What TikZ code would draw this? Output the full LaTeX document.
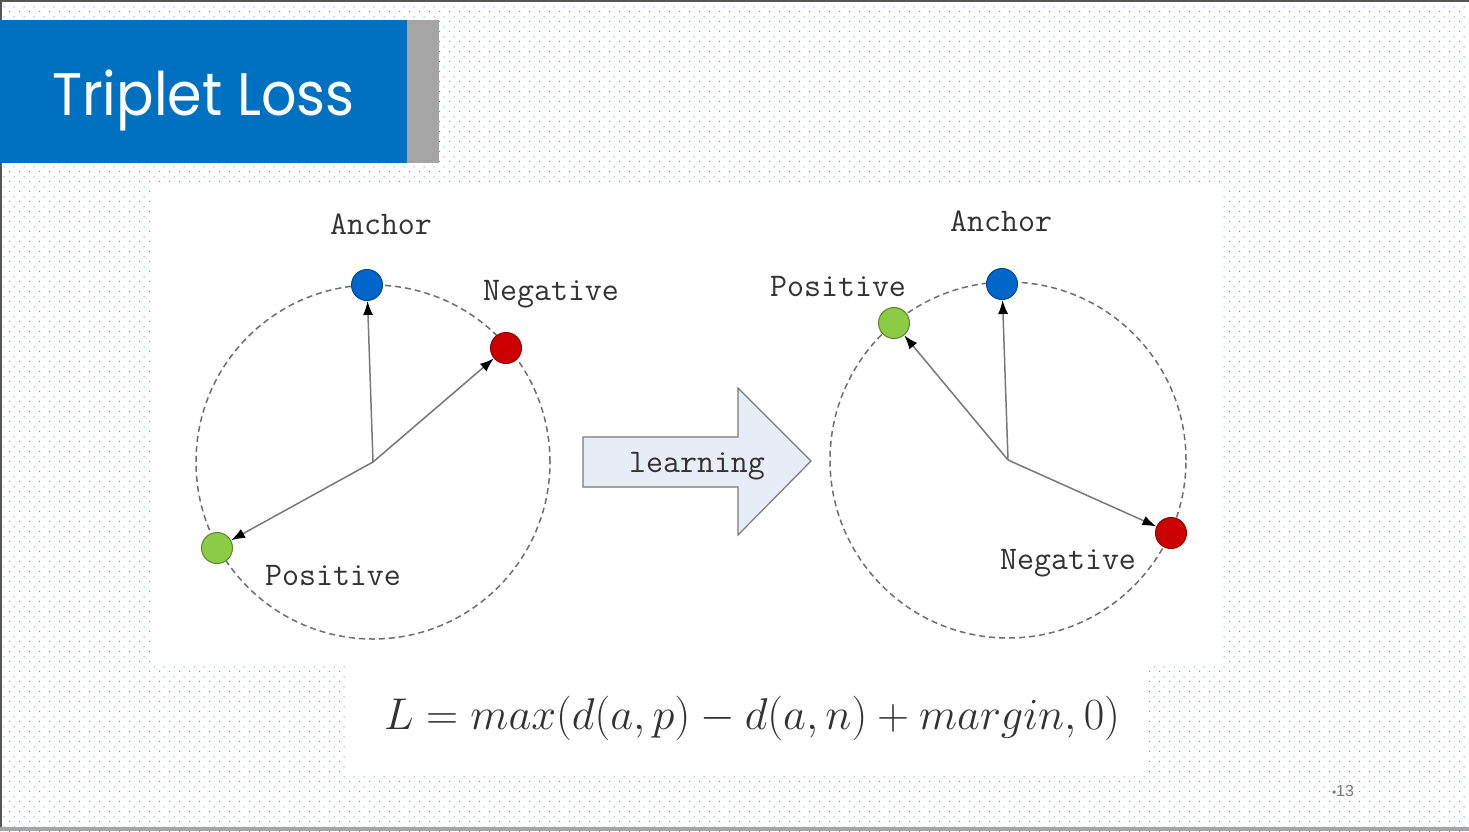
\RequirePackage{fix-cm}
\documentclass[tikz,border=0pt]{standalone}
\usepackage{fontspec}
\usepackage{tikz}
\usetikzlibrary{arrows.meta, positioning, patterns}
\newfontfamily\titlefont{Poppins}
\newfontfamily\numfont{Liberation Sans}
\definecolor{titleblue}{RGB}{0, 112, 192}
\definecolor{tabgray}{RGB}{165, 165, 165}
\definecolor{dotblue}{RGB}{90, 150, 222}
\definecolor{framegray}{RGB}{85, 85, 85}
\definecolor{ringgray}{RGB}{110, 110, 110}
\definecolor{vecgray}{RGB}{120, 120, 120}
\definecolor{inkgray}{RGB}{50, 50, 50}
\definecolor{anchorblue}{RGB}{0, 102, 204}
\definecolor{negred}{RGB}{204, 0, 0}
\definecolor{posgreen}{RGB}{140, 204, 68}
\definecolor{arrowfill}{RGB}{231, 236, 246}
\pgfdeclarepatternformonly{slidedots}{\pgfpointorigin}{\pgfpoint{10pt}{10pt}}{\pgfpoint{10pt}{10pt}}{%
  \pgfpathrectangle{\pgfpoint{0pt}{0pt}}{\pgfpoint{1.3pt}{1.3pt}}%
  \pgfpathrectangle{\pgfpoint{5pt}{5pt}}{\pgfpoint{1.3pt}{1.3pt}}%
  \pgfusepath{fill}}
\tikzset{
  panel/.style={fill=white, draw=none},
  titlebar/.style={fill=titleblue, draw=none},
  titletab/.style={fill=tabgray, draw=none},
  ringline/.style={draw=ringgray, line width=1.5pt, dash pattern=on 6pt off 4pt},
  vecline/.style={
    draw=vecgray, line width=1.5pt, -{Latex[length=14pt, width=10pt, color=black]}
  },
  basept/.style={circle, minimum size=31pt, inner sep=0pt, line width=1pt},
  anchorpt/.style={basept, fill=anchorblue, draw=anchorblue!70!black},
  negpt/.style={basept, fill=negred, draw=negred!70!black},
  pospt/.style={basept, fill=posgreen, draw=posgreen!65!black},
  tag/.style={
    anchor=base, text=inkgray, inner sep=0pt,
    font=\ttfamily\fontsize{33}{38}\selectfont
  },
  learnarrow/.style={fill=arrowfill, draw=vecgray, line width=1.2pt, line join=miter},
  formula/.style={anchor=base, text=inkgray, inner sep=0pt, font=\fontsize{44.5}{52}\selectfont}
}
\begin{document}
\begin{tikzpicture}[x=1pt, y=-1pt]

  % Slide background
  \useasboundingbox (0,0) rectangle (1469,831);
  \fill[white] (0,0) rectangle (1469,831);
  \fill[pattern=slidedots, pattern color=dotblue] (0,0) rectangle (1469,831);
  \draw[framegray, line width=2pt] (0,1) -- (1469,1);
  \draw[framegray, line width=2pt] (1,0) -- (1,831);
  \fill[tabgray] (0,827) rectangle (1469,831);

  % Title band
  \fill[titlebar] (0,20) rectangle (407,163);
  \fill[titletab] (407,20) rectangle (439,163);
  \node[anchor=base west, text=white, inner sep=0pt, xscale=0.925, font=\titlefont\fontsize{60}{68}\selectfont] (slide_title) at (52,115) {Triplet Loss};

  % Picture panels
  \fill[panel] (152,185) rectangle (1222,665);
  \fill[panel] (347,665) rectangle (1147,775);

  % Before learning
  \coordinate (left_center) at (373,462);
  \draw[ringline] (left_center) circle[radius=177pt];
  \node[anchorpt] (left_anchor) at (367,285) {};
  \node[negpt] (left_neg) at (506,348) {};
  \node[pospt] (left_pos) at (217,548) {};
  \draw[vecline] (left_center) -- (left_anchor);
  \draw[vecline] (left_center) -- (left_neg);
  \draw[vecline] (left_center) -- (left_pos);
  \node[tag] (left_anchor_lbl) at (381,234) {Anchor};
  \node[tag] (left_neg_lbl) at (551,300) {Negative};
  \node[tag] (left_pos_lbl) at (333,585) {Positive};

  % Learning arrow
  \draw[learnarrow] (583,437) -- (738,437) -- (738,388) -- (811,461)
    -- (738,535) -- (738,487) -- (583,487) -- cycle;
  \node[tag] (learn_lbl) at (697,472) {learning};

  % After learning
  \coordinate (right_center) at (1008,460);
  \draw[ringline] (right_center) circle[radius=178pt];
  \node[anchorpt] (right_anchor) at (1002,284) {};
  \node[pospt] (right_pos) at (894,323) {};
  \node[negpt] (right_neg) at (1171,533) {};
  \draw[vecline] (right_center) -- (right_anchor);
  \draw[vecline] (right_center) -- (right_pos);
  \draw[vecline] (right_center) -- (right_neg);
  \node[tag] (right_anchor_lbl) at (1001,231) {Anchor};
  \node[tag] (right_pos_lbl) at (838,296) {Positive};
  \node[tag] (right_neg_lbl) at (1068,569) {Negative};

  % Loss
  \node[formula] (loss_eq) at (752,729) {$L = max(d(a,p) - d(a,n) + margin, 0)$};

  % Page number
  \node[anchor=base, text=vecgray, inner sep=0pt, font=\numfont\fontsize{16}{18}\selectfont] (page_num) at (1343,796) {{\fontsize{12}{12}\selectfont\textbullet}13};

\end{tikzpicture}
\end{document}
